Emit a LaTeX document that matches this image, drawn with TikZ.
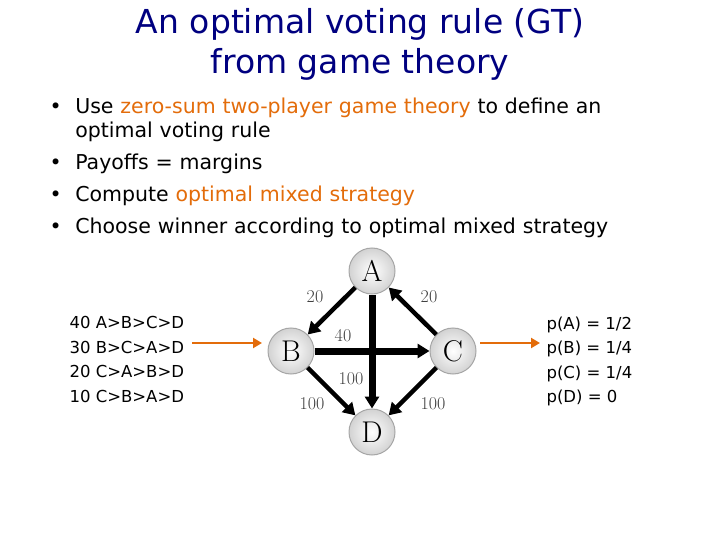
\documentclass[tikz,border=0pt]{standalone}
\usepackage{fontspec}
\setmainfont{DejaVu Sans}
\usetikzlibrary{arrows.meta,shadings}
\definecolor{ttl}{RGB}{0,0,128}
\definecolor{org}{RGB}{227,108,10}
\begin{document}
\begin{tikzpicture}[x=1pt,y=-1pt,
  vert/.style={circle,draw=gray!70,line width=1pt,minimum size=46pt,inner sep=0pt,shading=radial,inner color=white,outer color=gray!35,font=\fontspec{Latin Modern Roman}\fontsize{30}{30}\selectfont},
  edge/.style={line width=4.5pt,-{Triangle[length=12pt,width=14pt]}},
  elab/.style={font=\fontspec{Latin Modern Roman}\fontsize{18}{18}\selectfont,text=black!75},
  body/.style={font=\fontsize{20.5}{24}\selectfont,anchor=west,align=left},
  oarr/.style={org,line width=2.5pt,-{Triangle[length=9pt,width=10pt]}}]
\useasboundingbox (0,0) rectangle (720,540);
\node[ttl,font=\fontsize{33}{40}\selectfont,align=center] (title) at (360,44) {An optimal voting rule (GT)\\from game theory};
\node[body,anchor=north west,text width=660pt] (list) at (46,94) {%
\textbullet\ \ Use \textcolor{org}{zero-sum two-player game theory} to define an\\
\phantom{\textbullet\ \ }optimal voting rule\\[8pt]
\textbullet\ \ Payoffs = margins\\[8pt]
\textbullet\ \ Compute \textcolor{org}{optimal mixed strategy}\\[8pt]
\textbullet\ \ Choose winner according to optimal mixed strategy};
\node[vert] (A) at (372,271) {A};
\node[vert] (B) at (291,351) {B};
\node[vert] (C) at (453,351) {C};
\node[vert] (D) at (372,432) {D};
\draw[edge] (A) -- (B);
\draw[edge] (C) -- (A);
\draw[edge,line width=7pt] (B) -- (C);
\draw[edge,line width=7pt] (A) -- (D);
\draw[edge] (B) -- (D);
\draw[edge] (C) -- (D);
\node[elab] (l1) at (315,297) {20};
\node[elab] (l2) at (429,297) {20};
\node[elab] (l3) at (343,336) {40};
\node[elab] (l4) at (351,379) {100};
\node[elab] (l5) at (312,404) {100};
\node[elab] (l6) at (433,404) {100};
\node[body,font=\fontsize{16.5}{24.5}\selectfont,anchor=north west] (votes) at (66,313) {40 A>B>C>D\\30 B>C>A>D\\20 C>A>B>D\\10 C>B>A>D};
\node[body,font=\fontsize{16.5}{24.5}\selectfont,anchor=north west] (res) at (543,313) {p(A) = 1/2\\p(B) = 1/4\\p(C) = 1/4\\p(D) = 0};
\coordinate (o1s) at (192,343); \coordinate (o1e) at (262,343);
\coordinate (o2s) at (480,343); \coordinate (o2e) at (540,343);
\draw[oarr] (o1s) -- (o1e);
\draw[oarr] (o2s) -- (o2e);
\end{tikzpicture}
\end{document}
